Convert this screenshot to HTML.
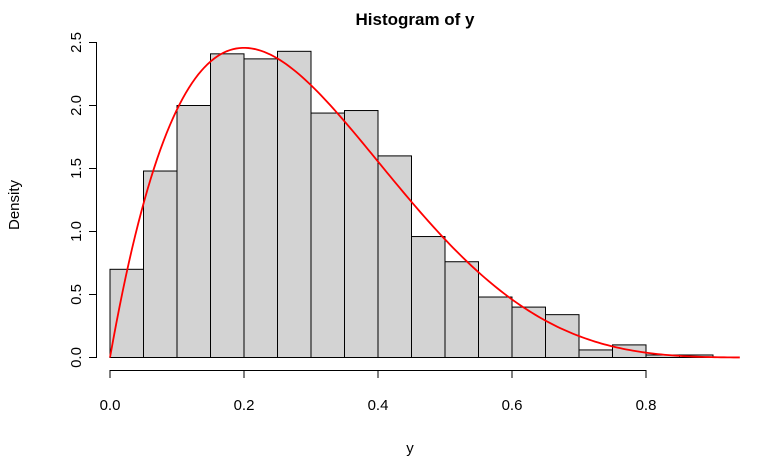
<!DOCTYPE html>
<html><head><meta charset="utf-8"><style>
body{margin:0;background:#fff}
svg{display:block;font-family:"Liberation Sans",Arial,sans-serif}
</style></head><body>
<svg id="chart" width="768" height="458">
<text x="415" y="25" text-anchor="middle" font-size="17" font-weight="bold">Histogram of y</text>
<text x="410" y="453" text-anchor="middle" font-size="15">y</text>
<text transform="translate(19,205) rotate(-90)" text-anchor="middle" font-size="15">Density</text>
<g id="bars"></g>
<g id="xaxis"></g>
<g id="yaxis"></g>
<path id="curve" fill="none" stroke="#ff0000" stroke-width="1.8"/>
</svg>
<script>
const binStarts=[0,0.05,0.1,0.15,0.2,0.25,0.3,0.35,0.4,0.45,0.5,0.55,0.6,0.65,0.7,0.75,0.8,0.85];
const binWidth=0.05;
const densities=[0.70,1.48,2.00,2.41,2.37,2.43,1.94,1.96,1.60,0.96,0.76,0.48,0.40,0.34,0.06,0.10,0.02,0.02];
const xTicks=[0,0.2,0.4,0.6,0.8];
const xTickLabels=["0.0","0.2","0.4","0.6","0.8"];
const yTicks=[0,0.5,1,1.5,2,2.5];
const yTickLabels=["0.0","0.5","1.0","1.5","2.0","2.5"];
const betaA=2, betaB=5, curveMax=0.94;
const NS="http://www.w3.org/2000/svg";
const X=v=>110+v*670;
const Y=v=>357.5-v*126;
function mk(t,a,p){const e=document.createElementNS(NS,t);for(const k in a)e.setAttribute(k,a[k]);p.appendChild(e);return e;}
const bars=document.getElementById('bars');
binStarts.forEach((s,i)=>{
 const r=mk('rect',{x:X(s),y:Y(densities[i]),width:X(s+binWidth)-X(s),height:Y(0)-Y(densities[i]),fill:'#d3d3d3',stroke:'#000','stroke-width':1},bars);
 
 
});
const xa=document.getElementById('xaxis');
mk('line',{x1:X(xTicks[0]),x2:X(xTicks[xTicks.length-1]),y1:370.5,y2:370.5,stroke:'#000'},xa);
xTicks.forEach((t,i)=>{
 mk('line',{x1:X(t),x2:X(t),y1:370,y2:378,stroke:'#000'},xa);
 const tx=mk('text',{x:X(t),y:410,'text-anchor':'middle','font-size':15},xa);
 tx.textContent=xTickLabels[i];
 
 
});
const ya=document.getElementById('yaxis');
mk('line',{x1:96.5,x2:96.5,y1:Y(yTicks[0]),y2:Y(yTicks[yTicks.length-1]),stroke:'#000'},ya);
yTicks.forEach((t,i)=>{
 mk('line',{x1:89,x2:97,y1:Y(t),y2:Y(t),stroke:'#000'},ya);
 const tx=mk('text',{x:0,y:0,'text-anchor':'middle','font-size':15,transform:`translate(81,${Y(t)}) rotate(-90)`},ya);
 tx.textContent=yTickLabels[i];
 
 
});
// theoretical Beta density
const B=1/30; // Beta(2,5) normalizing constant
let d='';
for(let k=0;k<=200;k++){const x=curveMax*k/200;const f=Math.pow(x,betaA-1)*Math.pow(1-x,betaB-1)/B;d+=(k?'L':'M')+X(x).toFixed(2)+','+Y(f).toFixed(2);}
document.getElementById('curve').setAttribute('d',d);
</script>
</body></html>
